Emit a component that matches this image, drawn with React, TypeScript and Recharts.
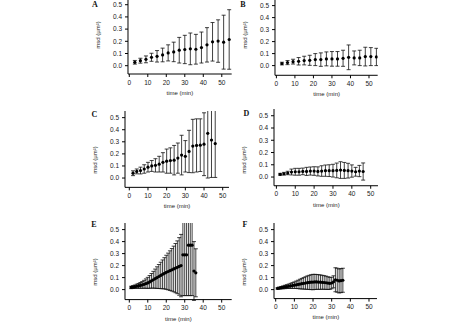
import React from 'react';
import { ScatterChart, Scatter, XAxis, YAxis, ErrorBar } from 'recharts';

// ---------- data ----------
const timesAB = [3, 6, 9, 12, 15, 18, 21, 24, 27, 30, 33, 36, 39, 42, 45, 48, 51, 54];
const meanA = [0.028, 0.041, 0.052, 0.069, 0.077, 0.088, 0.105, 0.113, 0.127, 0.133, 0.138, 0.135, 0.149, 0.171, 0.196, 0.202, 0.193, 0.215];
const errA = [0.015, 0.02, 0.028, 0.033, 0.047, 0.056, 0.066, 0.08, 0.105, 0.116, 0.13, 0.122, 0.127, 0.141, 0.158, 0.174, 0.221, 0.244];
const meanB = [0.017, 0.025, 0.033, 0.036, 0.042, 0.044, 0.05, 0.05, 0.056, 0.056, 0.056, 0.061, 0.069, 0.064, 0.064, 0.075, 0.075, 0.072];
const errB = [0.011, 0.017, 0.02, 0.031, 0.036, 0.042, 0.05, 0.056, 0.058, 0.061, 0.061, 0.067, 0.103, 0.058, 0.064, 0.078, 0.075, 0.072];

const timesCD = [2, 4, 6, 8, 10, 12, 14, 16, 18, 20, 22, 24, 26, 28, 30, 32, 34, 36, 38, 40, 42, 44, 46];
const meanC = [0.04, 0.055, 0.062, 0.075, 0.09, 0.1, 0.105, 0.115, 0.13, 0.14, 0.145, 0.148, 0.165, 0.19, 0.18, 0.22, 0.265, 0.27, 0.272, 0.28, 0.37, 0.315, 0.285];
const errC = [0.02, 0.02, 0.028, 0.035, 0.04, 0.045, 0.055, 0.065, 0.08, 0.1, 0.105, 0.122, 0.125, 0.164, 0.13, 0.175, 0.221, 0.22, 0.218, 0.26, 0.37, 0.31, 0.28];
const meanD = [0.022, 0.027, 0.033, 0.041, 0.043, 0.043, 0.046, 0.046, 0.049, 0.049, 0.046, 0.049, 0.052, 0.052, 0.052, 0.054, 0.057, 0.054, 0.052, 0.049, 0.043, 0.049, 0.045];
const errD = [0.008, 0.011, 0.014, 0.024, 0.028, 0.028, 0.027, 0.033, 0.033, 0.035, 0.037, 0.043, 0.046, 0.048, 0.052, 0.06, 0.068, 0.065, 0.06, 0.05, 0.036, 0.046, 0.07];

const timesEF = [1, 2, 3, 4, 5, 6, 7, 8, 9, 10, 11, 12, 13, 14, 15, 16, 17, 18, 19, 20, 21, 22, 23, 24, 25, 26, 27, 28, 29, 30, 31, 32, 33, 34, 35, 36];
const meanE = [0.018, 0.021, 0.024, 0.028, 0.031, 0.035, 0.039, 0.044, 0.05, 0.056, 0.064, 0.073, 0.082, 0.091, 0.1, 0.109, 0.118, 0.127, 0.136, 0.144, 0.151, 0.158, 0.165, 0.172, 0.179, 0.186, 0.193, 0.2, 0.29, 0.29, 0.29, 0.37, 0.37, 0.37, 0.155, 0.14];
const errE = [0.01, 0.012, 0.014, 0.017, 0.02, 0.024, 0.028, 0.033, 0.039, 0.046, 0.053, 0.061, 0.07, 0.08, 0.09, 0.1, 0.11, 0.12, 0.13, 0.142, 0.153, 0.165, 0.177, 0.19, 0.205, 0.22, 0.24, 0.26, 0.34, 0.34, 0.34, 0.42, 0.42, 0.42, 0.245, 0.2];
const meanF = [0.01, 0.013, 0.016, 0.019, 0.022, 0.025, 0.028, 0.031, 0.034, 0.037, 0.04, 0.043, 0.046, 0.049, 0.052, 0.055, 0.058, 0.06, 0.062, 0.063, 0.064, 0.064, 0.063, 0.062, 0.061, 0.059, 0.057, 0.054, 0.052, 0.055, 0.065, 0.082, 0.078, 0.072, 0.075, 0.078];
const errF = [0.006, 0.008, 0.01, 0.012, 0.014, 0.016, 0.018, 0.021, 0.024, 0.027, 0.031, 0.035, 0.04, 0.044, 0.048, 0.052, 0.056, 0.059, 0.062, 0.064, 0.063, 0.062, 0.061, 0.06, 0.058, 0.057, 0.055, 0.053, 0.05, 0.048, 0.05, 0.1, 0.1, 0.1, 0.1, 0.1];

const yTicks = [0, 0.1, 0.2, 0.3, 0.4, 0.5];
const xTicks = [0, 10, 20, 30, 40, 50];
const xTitle = 'time (min)';
const yTitle = 'msd (µm²)';

// ---------- layout ----------
type Layout = {
  axisX: number; axisRight: number; zeroY: number; ppu: number; axisY: number;
  x0: number; ppm: number; letterX: number; letterY: number; yTitleY: number;
};

const layouts: Layout[] = [
  { axisX: 128, axisRight: 231.7, zeroY: 66, ppu: 122, axisY: 74.3, x0: 129.3, ppm: 1.85, letterX: 95, letterY: 4.5, yTitleY: 35 },
  { axisX: 275.3, axisRight: 378, zeroY: 65.3, ppu: 120, axisY: 75, x0: 276.7, ppm: 1.852, letterX: 243, letterY: 4.5, yTitleY: 35 },
  { axisX: 125, axisRight: 229, zeroY: 177.7, ppu: 120.8, axisY: 187, x0: 129.3, ppm: 1.868, letterX: 94.5, letterY: 114.5, yTitleY: 160 },
  { axisX: 274.3, axisRight: 378.3, zeroY: 177.3, ppu: 122.6, axisY: 186, x0: 276.7, ppm: 1.886, letterX: 246.5, letterY: 114, yTitleY: 160 },
  { axisX: 125, axisRight: 231.7, zeroY: 290, ppu: 120, axisY: 300, x0: 129.3, ppm: 1.848, letterX: 94, letterY: 225, yTitleY: 272 },
  { axisX: 274.3, axisRight: 377.3, zeroY: 289.3, ppu: 120, axisY: 298.3, x0: 276, ppm: 1.866, letterX: 245, letterY: 225, yTitleY: 272 },
];

const panels = [
  { letter: 'A', times: timesAB, means: meanA, errs: errA },
  { letter: 'B', times: timesAB, means: meanB, errs: errB },
  { letter: 'C', times: timesCD, means: meanC, errs: errC },
  { letter: 'D', times: timesCD, means: meanD, errs: errD },
  { letter: 'E', times: timesEF, means: meanE, errs: errE },
  { letter: 'F', times: timesEF, means: meanF, errs: errF },
];

const SANS = '"Liberation Sans", Arial, sans-serif';
const tickStyle = { fontSize: 6.5, fill: '#222', fontFamily: SANS };

const Dot = (props: any) => {
  const { cx, cy } = props;
  if (cx == null || cy == null) return null;
  return <circle cx={cx} cy={cy} r={1.6} fill="#000" />;
};

function Panel({ letter, times, means, errs, L }: any) {
  const yw = 22;
  const xh = 16;
  const yMax = 0.555;
  const yMin = -(L.axisY - L.zeroY) / L.ppu;
  const top = L.zeroY - yMax * L.ppu;
  const xMin = (L.axisX - L.x0) / L.ppm;
  const xMax = (L.axisRight - L.x0) / L.ppm;
  const data = times.map((t: number, i: number) => ({ x: t, y: means[i], e: errs[i] }));
  const left = L.axisX - yw;
  const width = yw + (L.axisRight - L.axisX);
  const height = (L.axisY - top) + xh;
  const axisMid = (L.axisX + L.axisRight) / 2;

  return (
    <>
      <div style={{ position: 'absolute', left, top, width, height }}>
        <ScatterChart width={width} height={height} margin={{ top: 0, right: 0, bottom: 0, left: 0 }}>
          <XAxis
            type="number"
            dataKey="x"
            domain={[xMin, xMax]}
            allowDataOverflow
            ticks={xTicks}
            interval={0}
            tickSize={3}
            tickMargin={3}
            height={xh}
            axisLine={{ stroke: '#000', strokeWidth: 1 }}
            tickLine={{ stroke: '#000', strokeWidth: 1 }}
            tick={tickStyle}
          />
          <YAxis
            type="number"
            dataKey="y"
            domain={[yMin, yMax]}
            allowDataOverflow
            ticks={yTicks}
            interval={0}
            tickSize={3}
            tickMargin={3}
            width={yw}
            tickFormatter={(v: number) => v.toFixed(1)}
            axisLine={{ stroke: '#000', strokeWidth: 1 }}
            tickLine={{ stroke: '#000', strokeWidth: 1 }}
            tick={tickStyle}
          />
          <Scatter data={data} fill="#000" shape={Dot} isAnimationActive={false}>
            <ErrorBar dataKey="e" direction="y" width={2} stroke="#111" strokeWidth={0.8} isAnimationActive={false} />
          </Scatter>
        </ScatterChart>
      </div>
      <div style={{ position: 'absolute', left: L.letterX, top: L.letterY, transform: 'translate(-50%,-50%)', fontFamily: '"Liberation Serif", serif', fontWeight: 'bold', fontSize: 8, lineHeight: 1, color: '#111' }}>{letter}</div>
      <div style={{ position: 'absolute', left: axisMid, top: L.axisY + 18.5, transform: 'translate(-50%,-50%)', fontFamily: SANS, fontSize: 6, lineHeight: 1, color: '#222', whiteSpace: 'nowrap' }}>{xTitle}</div>
      <div style={{ position: 'absolute', left: L.axisX - 30, top: L.yTitleY, transform: 'translate(-50%,-50%) rotate(-90deg)', fontFamily: SANS, fontSize: 6, lineHeight: 1, color: '#222', whiteSpace: 'nowrap' }}>{yTitle}</div>
    </>
  );
}

export default function App() {
  return (
    <div style={{ position: 'absolute', left: 0, top: 0, width: 474, height: 326, background: '#fff', overflow: 'hidden' }}>
      {panels.map((p, i) => (
        <Panel key={p.letter} letter={p.letter} times={p.times} means={p.means} errs={p.errs} L={layouts[i]} />
      ))}
    </div>
  );
}
